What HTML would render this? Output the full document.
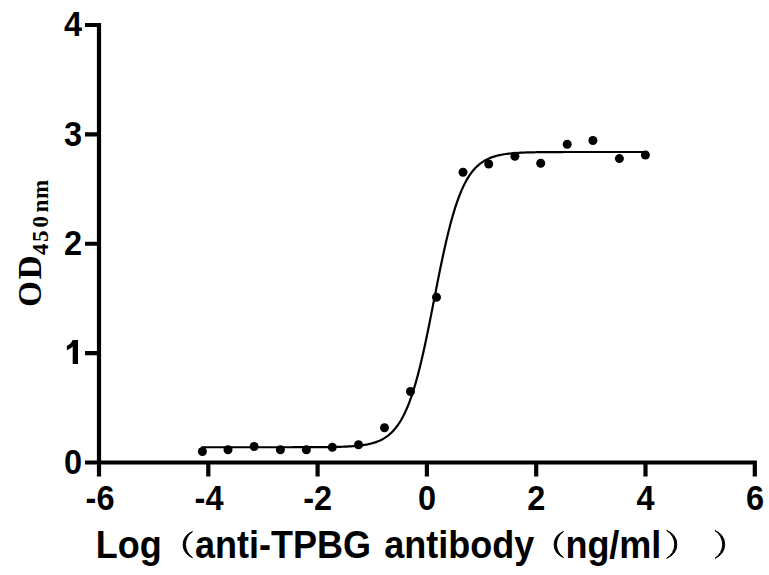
<!DOCTYPE html>
<html><head><meta charset="utf-8"><style>
html,body{margin:0;padding:0;background:#fff;}
body{width:769px;height:575px;overflow:hidden;position:relative;}
svg{position:absolute;left:0;top:0;}
.t{font-family:"Liberation Sans",sans-serif;font-weight:bold;fill:#000;}
.s{font-family:"Liberation Serif",serif;font-weight:bold;fill:#000;}
</style></head><body>
<svg width="769" height="575" viewBox="0 0 769 575">
<g stroke="#000" stroke-width="4.2" fill="none" stroke-linecap="butt">
<path d="M85,25 H99 V476.5"/>
<path d="M85,134.4 H99 M85,243.75 H99 M85,353.1 H99 M85,462.5 H755 M754.8,460.5 V476.5"/>
<path d="M208.3,462.5 V476.5 M317.6,462.5 V476.5 M426.9,462.5 V476.5 M536.2,462.5 V476.5 M645.5,462.5 V476.5"/>
</g>
<path d="M201.24,447.24 L202.72,447.24 L204.21,447.24 L205.69,447.24 L207.18,447.24 L208.67,447.24 L210.15,447.24 L211.64,447.24 L213.12,447.24 L214.61,447.24 L216.09,447.24 L217.58,447.24 L219.07,447.24 L220.55,447.24 L222.04,447.24 L223.52,447.24 L225.01,447.24 L226.49,447.24 L227.98,447.24 L229.47,447.24 L230.95,447.24 L232.44,447.24 L233.92,447.24 L235.41,447.24 L236.89,447.24 L238.38,447.24 L239.86,447.24 L241.35,447.24 L242.84,447.24 L244.32,447.24 L245.81,447.24 L247.29,447.24 L248.78,447.24 L250.26,447.24 L251.75,447.24 L253.24,447.24 L254.72,447.24 L256.21,447.24 L257.69,447.24 L259.18,447.24 L260.66,447.24 L262.15,447.24 L263.64,447.24 L265.12,447.24 L266.61,447.24 L268.09,447.24 L269.58,447.24 L271.06,447.24 L272.55,447.24 L274.04,447.24 L275.52,447.24 L277.01,447.24 L278.49,447.24 L279.98,447.24 L281.46,447.23 L282.95,447.23 L284.44,447.23 L285.92,447.23 L287.41,447.23 L288.89,447.23 L290.38,447.23 L291.86,447.23 L293.35,447.22 L294.84,447.22 L296.32,447.22 L297.81,447.22 L299.29,447.22 L300.78,447.21 L302.26,447.21 L303.75,447.21 L305.24,447.20 L306.72,447.20 L308.21,447.19 L309.69,447.19 L311.18,447.18 L312.66,447.18 L314.15,447.17 L315.64,447.16 L317.12,447.15 L318.61,447.14 L320.09,447.13 L321.58,447.12 L323.06,447.11 L324.55,447.09 L326.04,447.08 L327.52,447.06 L329.01,447.04 L330.49,447.02 L331.98,446.99 L333.46,446.97 L334.95,446.94 L336.44,446.90 L337.92,446.87 L339.41,446.82 L340.89,446.78 L342.38,446.73 L343.86,446.67 L345.35,446.61 L346.84,446.54 L348.32,446.47 L349.81,446.39 L351.29,446.29 L352.78,446.19 L354.26,446.08 L355.75,445.95 L357.23,445.81 L358.72,445.66 L360.21,445.49 L361.69,445.30 L363.18,445.09 L364.66,444.86 L366.15,444.60 L367.63,444.32 L369.12,444.00 L370.61,443.66 L372.09,443.27 L373.58,442.85 L375.06,442.38 L376.55,441.87 L378.03,441.29 L379.52,440.66 L381.01,439.97 L382.49,439.20 L383.98,438.36 L385.46,437.43 L386.95,436.40 L388.43,435.27 L389.92,434.03 L391.41,432.67 L392.89,431.18 L394.38,429.54 L395.86,427.75 L397.35,425.79 L398.83,423.65 L400.32,421.32 L401.81,418.78 L403.29,416.02 L404.78,413.03 L406.26,409.79 L407.75,406.30 L409.23,402.53 L410.72,398.49 L412.21,394.15 L413.69,389.52 L415.18,384.59 L416.66,379.37 L418.15,373.84 L419.63,368.02 L421.12,361.91 L422.61,355.53 L424.09,348.90 L425.58,342.04 L427.06,334.98 L428.55,327.73 L430.03,320.35 L431.52,312.85 L433.01,305.29 L434.49,297.70 L435.98,290.11 L437.46,282.58 L438.95,275.14 L440.43,267.82 L441.92,260.66 L443.41,253.69 L444.89,246.95 L446.38,240.44 L447.86,234.20 L449.35,228.24 L450.83,222.56 L452.32,217.18 L453.81,212.11 L455.29,207.33 L456.78,202.85 L458.26,198.66 L459.75,194.76 L461.23,191.13 L462.72,187.77 L464.21,184.65 L465.69,181.78 L467.18,179.14 L468.66,176.70 L470.15,174.47 L471.63,172.42 L473.12,170.55 L474.60,168.84 L476.09,167.28 L477.58,165.85 L479.06,164.55 L480.55,163.37 L482.03,162.30 L483.52,161.32 L485.00,160.43 L486.49,159.63 L487.98,158.90 L489.46,158.24 L490.95,157.64 L492.43,157.09 L493.92,156.60 L495.40,156.16 L496.89,155.75 L498.38,155.39 L499.86,155.06 L501.35,154.76 L502.83,154.49 L504.32,154.25 L505.80,154.03 L507.29,153.83 L508.78,153.65 L510.26,153.49 L511.75,153.34 L513.23,153.21 L514.72,153.09 L516.20,152.98 L517.69,152.89 L519.18,152.80 L520.66,152.72 L522.15,152.65 L523.63,152.58 L525.12,152.52 L526.60,152.47 L528.09,152.42 L529.58,152.38 L531.06,152.34 L532.55,152.31 L534.03,152.28 L535.52,152.25 L537.00,152.22 L538.49,152.20 L539.98,152.18 L541.46,152.16 L542.95,152.14 L544.43,152.13 L545.92,152.11 L547.40,152.10 L548.89,152.09 L550.38,152.08 L551.86,152.07 L553.35,152.06 L554.83,152.05 L556.32,152.05 L557.80,152.04 L559.29,152.04 L560.78,152.03 L562.26,152.03 L563.75,152.02 L565.23,152.02 L566.72,152.01 L568.20,152.01 L569.69,152.01 L571.18,152.01 L572.66,152.00 L574.15,152.00 L575.63,152.00 L577.12,152.00 L578.60,152.00 L580.09,152.00 L581.58,152.00 L583.06,151.99 L584.55,151.99 L586.03,151.99 L587.52,151.99 L589.00,151.99 L590.49,151.99 L591.97,151.99 L593.46,151.99 L594.95,151.99 L596.43,151.99 L597.92,151.99 L599.40,151.99 L600.89,151.99 L602.37,151.99 L603.86,151.99 L605.35,151.99 L606.83,151.99 L608.32,151.99 L609.80,151.99 L611.29,151.99 L612.77,151.99 L614.26,151.99 L615.75,151.99 L617.23,151.99 L618.72,151.99 L620.20,151.99 L621.69,151.99 L623.17,151.98 L624.66,151.98 L626.15,151.98 L627.63,151.98 L629.12,151.98 L630.60,151.98 L632.09,151.98 L633.57,151.98 L635.06,151.98 L636.55,151.98 L638.03,151.98 L639.52,151.98 L641.00,151.98 L642.49,151.98 L643.97,151.98 L645.46,151.98" stroke="#000" stroke-width="2.2" fill="none"/>
<g fill="#000">
<circle cx="202.4" cy="451.5" r="4.5"/>
<circle cx="228" cy="449.8" r="4.5"/>
<circle cx="254.1" cy="446.5" r="4.5"/>
<circle cx="280.4" cy="449.8" r="4.5"/>
<circle cx="306.4" cy="449.7" r="4.5"/>
<circle cx="332.3" cy="447.2" r="4.5"/>
<circle cx="358.5" cy="444.7" r="4.5"/>
<circle cx="384.5" cy="427.8" r="4.5"/>
<circle cx="410.5" cy="391.5" r="4.5"/>
<circle cx="436.5" cy="297.2" r="4.5"/>
<circle cx="463.0" cy="172.2" r="4.5"/>
<circle cx="488.7" cy="164" r="4.5"/>
<circle cx="514.9" cy="156.2" r="4.5"/>
<circle cx="540.7" cy="163.2" r="4.5"/>
<circle cx="567.2" cy="144.3" r="4.5"/>
<circle cx="592.9" cy="140.5" r="4.5"/>
<circle cx="619.4" cy="158.6" r="4.5"/>
<circle cx="645.4" cy="155" r="4.5"/>
</g>
<g class="t" font-size="32.5" text-anchor="end"><text transform="translate(82,36) scale(1,1.08)">4</text><text transform="translate(82,145.5) scale(1,1.08)">3</text><text transform="translate(82,255) scale(1,1.08)">2</text><text transform="translate(82,473.7) scale(1,1.08)">0</text></g>
<path d="M72.7,339.9 H78 V363.9 H72.7 V346.6 C71,348.3 69,349.4 66.8,350.2 V345.9 C69,345 71.5,342.5 72.7,339.9 Z" fill="#000"/>
<g class="t" font-size="32.5" text-anchor="middle"><text transform="translate(100,510) scale(1,1.08)">-6</text><text transform="translate(209,510) scale(1,1.08)">-4</text><text transform="translate(317.6,510) scale(1,1.08)">-2</text><text transform="translate(427,510) scale(1,1.08)">0</text><text transform="translate(536.2,510) scale(1,1.08)">2</text><text transform="translate(645.5,510) scale(1,1.08)">4</text><text transform="translate(755,510) scale(1,1.08)">6</text></g>
<g class="t" font-size="36"><text transform="translate(95.7,558) scale(1,1.07)">Log</text><text transform="translate(195,558) scale(1,1.07)">anti-TPBG</text><text transform="translate(384.3,558) scale(1,1.07)">antibody</text><text transform="translate(565.4,558) scale(1,1.07)">ng/ml</text></g>
<g fill="#000"><path d="M192.5,531.6 A13.69,13.69 0 0 0 192.5,557.6 A15.57,15.57 0 0 1 192.5,531.6Z" stroke="#000" stroke-width="1"/><path d="M563.5,531.6 A13.55,13.55 0 0 0 563.5,557.4 A15.39,15.39 0 0 1 563.5,531.6Z" stroke="#000" stroke-width="1"/><path d="M666.7,530.5 A14.61,14.61 0 0 1 666.7,558.3 A16.08,16.08 0 0 0 666.7,530.5Z" stroke="#000" stroke-width="1"/><path d="M715,530.5 A14.81,14.81 0 0 1 715,558.3 A16.51,16.51 0 0 0 715,530.5Z" stroke="#000" stroke-width="1"/></g>
<g class="s" transform="translate(40.6,306.8) rotate(-90)"><text x="0" y="0" font-size="33">O</text><text x="27.6" y="0" font-size="33">D</text><text x="51.7" y="7.5" font-size="23">4</text><text x="64.9" y="7.5" font-size="23">5</text><text x="79.3" y="7.5" font-size="23">0</text><text x="94.3" y="7.5" font-size="23">n</text><text x="107.8" y="7.5" font-size="23">m</text></g>
</svg>
</body></html>
